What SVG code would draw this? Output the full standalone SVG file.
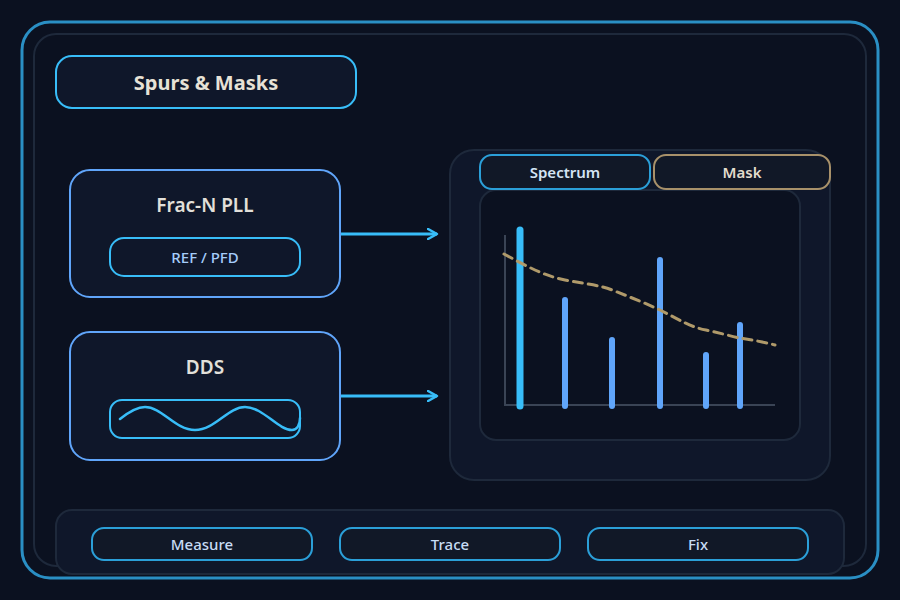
<svg xmlns="http://www.w3.org/2000/svg" width="900" height="600" viewBox="0 0 900 600">
<defs>
<style>
.lbl{font-family:"Noto Sans","Open Sans","DejaVu Sans",sans-serif;text-anchor:middle;dominant-baseline:central}
.title{font-size:20px;font-weight:700;fill:#e7e2d6}
.node{fill:#0f172a;stroke:#60a5fa;stroke-width:2}
.head{font-size:19px;font-weight:600;fill:#e2e0da}
.sub{fill:#0f172a;stroke:#38bdf8;stroke-width:2}
.subt{font-size:15px;font-weight:500;fill:#a5cdfb}
.btn{fill:#111827;stroke:#2b9fd8;stroke-width:2}
.btnt{font-size:15px;font-weight:500;fill:#c7dcf5}
.bar{stroke:#60a5fa;stroke-width:6;stroke-linecap:round}
.conn{stroke:#38bdf8;stroke-width:3;fill:none}
</style>
<marker id="arr" viewBox="0 0 12 12" refX="10" refY="6" markerWidth="12" markerHeight="12" markerUnits="userSpaceOnUse" orient="auto">
<path d="M1,1 L10,6 L1,11" fill="none" stroke="#38bdf8" stroke-width="2.5" stroke-linecap="round" stroke-linejoin="round"/>
</marker>
</defs>
<rect width="900" height="600" fill="#0b1120"/>
<g id="frame">
<rect x="22" y="22" width="856" height="556" rx="28" fill="none" stroke="#2a8fc4" stroke-width="3"/>
<rect x="34" y="34" width="832" height="532" rx="22" fill="none" stroke="#1e293b" stroke-width="2"/>
</g>
<g id="title">
<rect x="56" y="56" width="300" height="52" rx="16" fill="#0f172a" stroke="#38bdf8" stroke-width="2"/>
<text class="lbl title" x="206" y="82">Spurs &amp; Masks</text>
</g>
<g id="pll">
<rect class="node" x="70" y="170" width="270" height="127" rx="20"/>
<text class="lbl head" x="205" y="205">Frac-N PLL</text>
<rect class="sub" x="110" y="238" width="190" height="38" rx="14"/>
<text class="lbl subt" x="205" y="257">REF / PFD</text>
</g>
<g id="dds">
<rect class="node" x="70" y="332" width="270" height="128" rx="20"/>
<text class="lbl head" x="205" y="367">DDS</text>
<rect class="sub" x="110" y="400" width="190" height="38" rx="12"/>
<path d="M120,419 C130,411 137,407 145,407 C162,407 175,430 195,430 C215,430 228,407 245,407 C263,407 278,430 292,430 C297,430 300,425 300,418" fill="none" stroke="#38bdf8" stroke-width="2.5" stroke-linecap="round"/>
</g>
<g id="connectors">
<line class="conn" x1="341" y1="234" x2="437" y2="234" marker-end="url(#arr)"/>
<line class="conn" x1="341" y1="396" x2="437" y2="396" marker-end="url(#arr)"/>
</g>
<g id="analyzer">
<rect x="450" y="150" width="380" height="330" rx="24" fill="#0f172a" stroke="#1e293b" stroke-width="2"/>
<rect x="480" y="190" width="320" height="250" rx="16" fill="#0b1120" stroke="#1e293b" stroke-width="2"/>
<rect x="480" y="155" width="170" height="34" rx="12" fill="#111827" stroke="#2b9fd8" stroke-width="2"/>
<text class="lbl" x="565" y="172" style="font-size:15px;font-weight:600;fill:#d4e4f4">Spectrum</text>
<rect x="654" y="155" width="176" height="34" rx="12" fill="#111827" stroke="#a8916a" stroke-width="2"/>
<text class="lbl" x="742" y="172" style="font-size:15px;font-weight:600;fill:#e2dccd">Mask</text>
<path d="M505,235 L505,405 L775,405" fill="none" stroke="#3a4455" stroke-width="2"/>
<line class="bar" x1="520" y1="230" x2="520" y2="406" style="stroke:#38bdf8;stroke-width:7"/>
<line class="bar" x1="565" y1="300" x2="565" y2="406"/>
<line class="bar" x1="612" y1="340" x2="612" y2="406"/>
<line class="bar" x1="660" y1="260" x2="660" y2="406"/>
<line class="bar" x1="706" y1="355" x2="706" y2="406"/>
<line class="bar" x1="740" y1="325" x2="740" y2="406"/>
<path d="M504,254 C530,268 545,276 565,280 C585,284 600,285 612,290 C630,297 645,303 660,310 C680,320 690,327 706,330 C720,333 730,336 740,338 C752,340 764,342 775,345" fill="none" stroke="#b09a6a" stroke-width="3" stroke-dasharray="9 6" stroke-linecap="round"/>
</g>
<g id="toolbar">
<rect x="56" y="510" width="788" height="64" rx="16" fill="#0f172a" stroke="#1e293b" stroke-width="2"/>
</g>
<g id="measure">
<rect class="btn" x="92" y="528" width="220" height="32" rx="12"/>
<text class="lbl btnt" x="202" y="544">Measure</text>
</g>
<g id="trace">
<rect class="btn" x="340" y="528" width="220" height="32" rx="12"/>
<text class="lbl btnt" x="450" y="544">Trace</text>
</g>
<g id="fix">
<rect class="btn" x="588" y="528" width="220" height="32" rx="12"/>
<text class="lbl btnt" x="698" y="544">Fix</text>
</g>
</svg>
